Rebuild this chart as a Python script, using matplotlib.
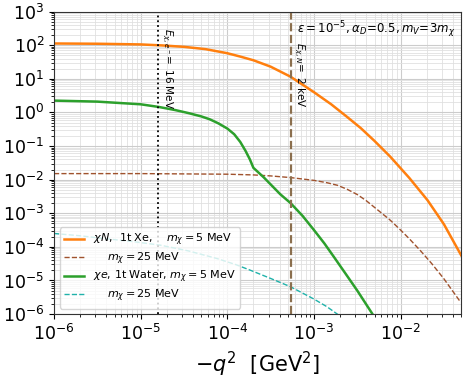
import numpy as np
import matplotlib
matplotlib.use('Agg')
import matplotlib.pyplot as plt
from matplotlib.ticker import LogLocator, NullFormatter
import matplotlib.transforms as mtransforms

# chi N, 1t Xe, m_chi = 5 MeV
q2_xe5 = [1e-6, 3.16e-6, 1e-5, 1.78e-5, 3.16e-5, 5.62e-5, 1e-4, 1.41e-4, 2.0e-4, 3.16e-4,
          5.37e-4, 1e-3, 1.58e-3, 2.4e-3, 3.47e-3, 5.0e-3, 7.6e-3, 1.26e-2, 2.04e-2, 3.16e-2, 5.0e-2]
rate_xe5 = [112, 110, 105, 98, 89, 76, 57.5, 45.7, 35.5, 22.9,
            11.5, 3.98, 1.74, 0.74, 0.34, 0.141, 0.048, 0.0112, 2.45e-3, 4.7e-4, 5.6e-5]

# chi N, 1t Xe, m_chi = 25 MeV
q2_xe25 = [1e-6, 1e-5, 3.16e-5, 1e-4, 2e-4, 3.16e-4, 5.37e-4, 1e-3, 1.41e-3, 1.86e-3, 2.4e-3,
           3.16e-3, 3.98e-3, 5.62e-3, 7.6e-3, 1e-2, 1.26e-2, 1.7e-2, 2.29e-2, 3.16e-2, 4.9e-2]
rate_xe25 = [0.0151, 0.0151, 0.0148, 0.0145, 0.0138, 0.0129, 0.0115, 9.5e-3, 8.1e-3, 6.8e-3, 5.2e-3,
             3.6e-3, 2.4e-3, 1.17e-3, 6.2e-4, 3.16e-4, 1.74e-4, 7.6e-5, 3.16e-5, 1.12e-5, 2.3e-6]

# chi e, 1t Water, m_chi = 5 MeV
q2_w5 = [1e-6, 3.16e-6, 1e-5, 1.62e-5, 2.51e-5, 3.55e-5, 5.0e-5, 6.3e-5, 7.9e-5, 1e-4,
         1.2e-4, 1.41e-4, 1.62e-4, 1.82e-4, 2.0e-4, 2.63e-4, 4.07e-4, 5.37e-4, 7.4e-4, 1e-3,
         1.32e-3, 1.7e-3, 2.29e-3, 3.16e-3, 4.68e-3, 5.25e-3]
rate_w5 = [2.24, 2.09, 1.74, 1.45, 1.17, 0.955, 0.76, 0.62, 0.47, 0.33,
           0.224, 0.132, 0.072, 0.040, 0.0224, 0.0117, 3.7e-3, 2.0e-3, 8.3e-4, 3.16e-4,
           1.26e-4, 5.0e-5, 1.66e-5, 5.0e-6, 1.05e-6, 6.3e-7]

# chi e, 1t Water, m_chi = 25 MeV
q2_w25 = [1e-6, 2e-6, 3.7e-6, 7.9e-6, 1.7e-5, 3.55e-5, 7.6e-5, 1.26e-4, 1.86e-4, 3.16e-4,
          5.37e-4, 1e-3, 1.41e-3, 1.86e-3, 2.5e-3]
rate_w25 = [2.5e-4, 2.14e-4, 1.78e-4, 1.45e-4, 1.12e-4, 7.6e-5, 4.5e-5, 2.95e-5, 2.0e-5, 1.15e-5,
            6.5e-6, 2.8e-6, 1.66e-6, 1e-6, 5.6e-7]

e_thr_e = 1.6e-5   # E_chi,e- = 16 MeV
e_thr_n = 5.4e-4   # E_chi,N = 2 keV

fig = plt.figure(figsize=(4.74, 3.84), dpi=100)
ax = fig.add_axes([0.114, 0.182, 0.859, 0.788])

ax.plot(q2_xe5, rate_xe5, color='#ff7f0e', lw=1.8, solid_joinstyle='round',
        label=r'$\chi N$,  1t Xe,    $m_\chi=5$ MeV')
ax.plot(q2_xe25, rate_xe25, color='#a0522d', lw=1.0, ls='--',
        label=r'    $m_\chi=25$ MeV')
ax.plot(q2_w5, rate_w5, color='#2ca02c', lw=1.8, solid_joinstyle='round',
        label=r'$\chi e$, 1t Water, $m_\chi=5$ MeV')
ax.plot(q2_w25, rate_w25, color='#20b2aa', lw=1.0, ls='--',
        label=r'    $m_\chi=25$ MeV')

ax.axvline(e_thr_e, color='black', ls=':', lw=1.3)
ax.axvline(e_thr_n, color='#8b6f4e', ls='--', lw=1.6)

trans = mtransforms.blended_transform_factory(ax.transData, ax.transAxes)
ax.text(e_thr_e * 1.04, 0.945, r'$E_{\chi,e^-}\!=$ 16 MeV', rotation=-90,
        transform=trans, ha='left', va='top', fontsize=7.5)
ax.text(e_thr_n * 1.04, 0.90, r'$E_{\chi,N}\!=$ 2 keV', rotation=-90,
        transform=trans, ha='left', va='top', fontsize=7.5)
ax.text(0.985, 0.975, r'$\epsilon=10^{-5}, \alpha_D\!=\!0.5, m_V\!=\!3m_\chi$',
        transform=ax.transAxes, ha='right', va='top', fontsize=8.5)

ax.set_xscale('log')
ax.set_yscale('log')
ax.set_xlim(1e-6, 5e-2)
ax.set_ylim(1e-6, 1e3)
ax.yaxis.set_major_locator(LogLocator(base=10, numticks=20))
ax.yaxis.set_minor_locator(LogLocator(base=10, subs=np.arange(2, 10), numticks=20))
ax.yaxis.set_minor_formatter(NullFormatter())
ax.xaxis.set_major_locator(LogLocator(base=10, numticks=20))
ax.xaxis.set_minor_locator(LogLocator(base=10, subs=np.arange(2, 10), numticks=20))
ax.xaxis.set_minor_formatter(NullFormatter())

ax.grid(True, which='major', color='#cccccc', lw=0.8)
ax.grid(True, which='minor', color='#e0e0e0', lw=0.6)
ax.tick_params(labelsize=12.5)
ax.set_xlabel(r'$-q^2$  [GeV$^2$]', fontsize=15)
for sp in ax.spines.values():
    sp.set_color('#333333')

ax.legend(loc='lower left', fontsize=8, framealpha=0.8, labelspacing=0.2,
          handlelength=1.8, borderaxespad=0.5)

fig.savefig('out.png', dpi=100)
